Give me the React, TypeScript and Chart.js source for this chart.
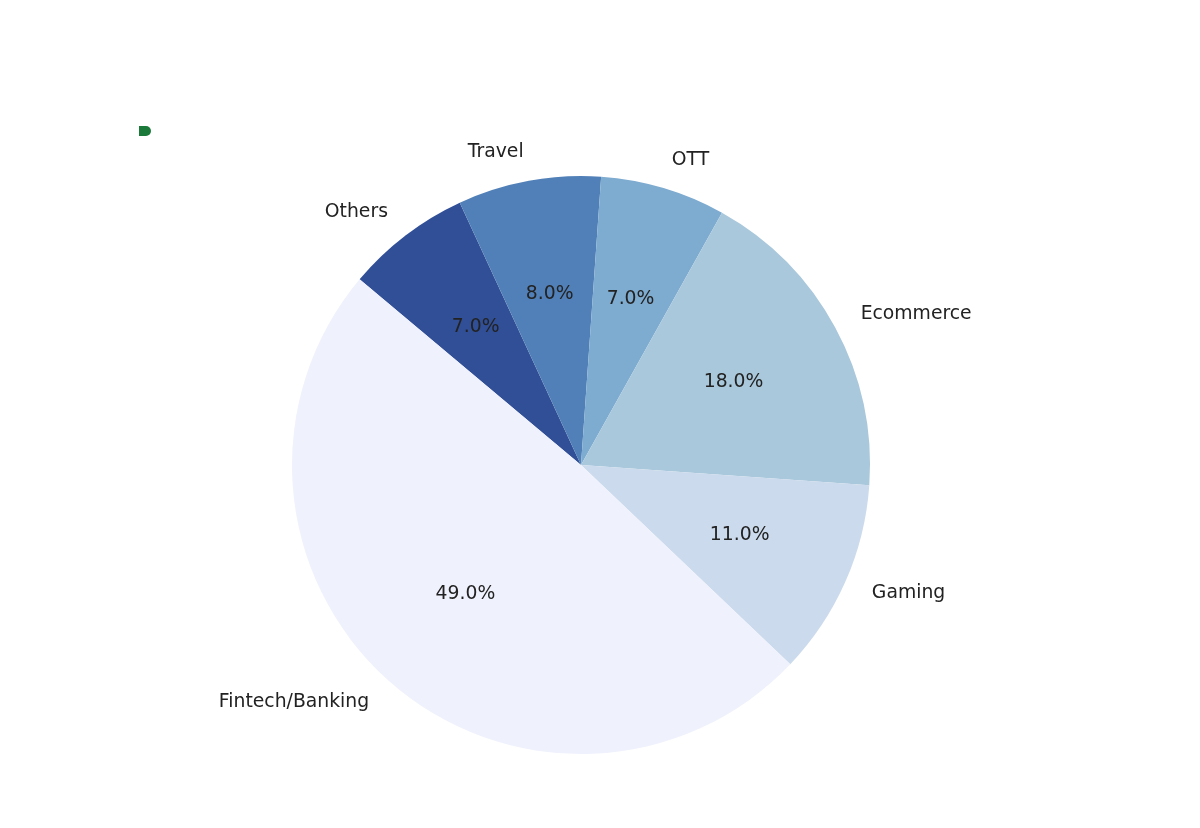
import React, { useEffect, useRef } from "react";
import { Chart, registerables } from "chart.js";

Chart.register(...registerables);

// Drawing order (clockwise from the Others/Fintech boundary)
const categories = ["Others", "Travel", "OTT", "Ecommerce", "Gaming", "Fintech/Banking"];
const shares = [7, 8, 7, 18, 11, 49];
const sliceColors = ["#314f97", "#5180b8", "#7eabd0", "#a9c8dc", "#cbdaec", "#eff1fc"];

const labelPlugin = {
  id: "pieLabels",
  afterDatasetsDraw(chart: any) {
    const ctx = chart.ctx;
    const meta = chart.getDatasetMeta(0);
    const total = shares.reduce((a, b) => a + b, 0);
    ctx.save();
    ctx.font = '18.8px "DejaVu Sans"';
    ctx.fillStyle = "#222222";
    ctx.textBaseline = "middle";
    meta.data.forEach((arc: any, i: number) => {
      const { x, y, startAngle, endAngle, outerRadius } = arc.getProps(
        ["x", "y", "startAngle", "endAngle", "outerRadius"],
        true
      );
      const mid = (startAngle + endAngle) / 2;
      const lx = x + Math.cos(mid) * outerRadius * 1.1;
      const ly = y + Math.sin(mid) * outerRadius * 1.1;
      ctx.textAlign = lx > x ? "left" : "right";
      ctx.fillText(categories[i], lx, ly);
      const px = x + Math.cos(mid) * outerRadius * 0.6;
      const py = y + Math.sin(mid) * outerRadius * 0.6;
      ctx.textAlign = "center";
      ctx.fillText(((shares[i] / total) * 100).toFixed(1) + "%", px, py);
    });
    ctx.restore();
  },
};

export default function App() {
  const ref = useRef<HTMLCanvasElement | null>(null);
  useEffect(() => {
    if (!ref.current) return;
    const chart = new Chart(ref.current, {
      type: "pie",
      data: {
        labels: categories,
        datasets: [
          {
            data: shares,
            backgroundColor: sliceColors,
            borderWidth: 0,
          },
        ],
      },
      options: {
        responsive: false,
        animation: false,
        events: [],
        rotation: -50,
        layout: { padding: { left: 292, right: 330, top: 176, bottom: 74 } },
        plugins: {
          legend: { display: false },
          tooltip: { enabled: false },
        },
      },
      plugins: [labelPlugin],
    });
    return () => chart.destroy();
  }, []);
  return (
    <div style={{ position: "fixed", left: 0, top: 0, width: 1200, height: 828, background: "#fff" }}>
      <canvas ref={ref} width={1200} height={828} style={{ position: "absolute", left: 0, top: 0 }} />
      <div
        style={{
          position: "absolute",
          left: 139,
          top: 126,
          width: 12,
          height: 10,
          background: "#1b7a3a",
          borderRadius: "0 5px 5px 0",
        }}
      />
    </div>
  );
}
